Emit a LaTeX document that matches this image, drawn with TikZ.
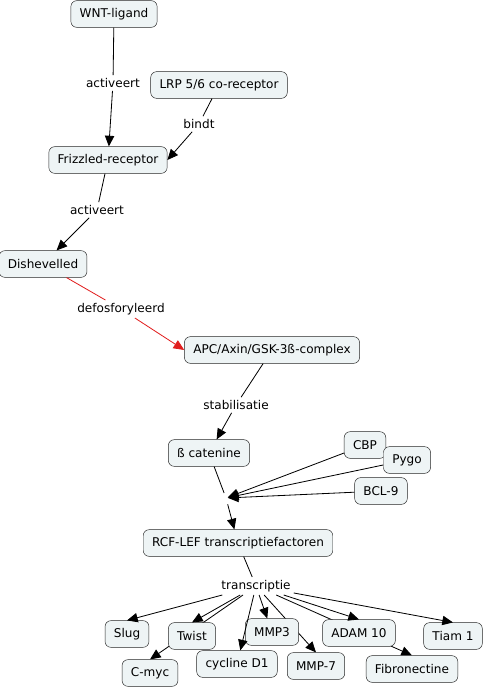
\documentclass[tikz,border=0pt]{standalone}
\usepackage{fontspec}
\setmainfont{DejaVu Sans}
\usetikzlibrary{arrows.meta, backgrounds}
\definecolor{conceptbg}{RGB}{238,244,245}
\definecolor{dephoscolor}{RGB}{225,30,30}

\begin{document}
\begin{tikzpicture}[
  x=0.03cm, y=-0.03cm,
  font=\fontsize{10.3}{12}\selectfont,
  concept/.style={
    draw=black!85, rounded corners=5pt, fill=conceptbg,
    minimum height=0.8cm, inner xsep=7.5pt, inner ysep=3pt
  },
  linkphrase/.style={inner sep=2.5pt},
  arr/.style={-{Triangle[length=0.32cm, width=0.28cm]}, line width=0.7pt},
  plain/.style={line width=0.7pt},
]
\useasboundingbox (0,0) rectangle (486,689);

%% ─── Receptor complex ────────────────────────────────────────────────────────

\node[concept] (wnt)  at (114, 14) {WNT-ligand};
\node[concept] (lrp)  at (219, 85) {LRP 5/6 co-receptor};
\node[concept] (friz) at (108,160) {Frizzled-receptor};
\node[concept] (dish) at ( 43,264) {Dishevelled};
\node[concept] (apc)  at (272,350) {APC/Axin/GSK-3ß-complex};
\node[concept] (bcat) at (209,453) {ß catenine};

\node[linkphrase] (act1)  at (113, 83) {activeert};
\node[linkphrase] (bindt) at (199,124) {bindt};
\node[linkphrase] (act2)  at ( 97,210) {activeert};
\node[linkphrase] (defos) at (121,309) {defosforyleerd};
\node[linkphrase] (stab)  at (236,405) {stabilisatie};

\draw[plain] (wnt) -- (act1);
\draw[arr]   (act1) -- (friz);
\draw[plain] (lrp) -- (bindt);
\draw[arr]   (bindt) -- (friz.east);
\draw[plain] (friz) -- (act2);
\draw[arr]   (act2) -- (dish);
\draw[plain, dephoscolor] (dish) -- (defos);
\draw[arr, dephoscolor]   (defos) -- (apc.west);
\draw[plain] (apc) -- (stab);
\draw[arr]   (stab) -- (bcat);

%% ─── Co-activators ───────────────────────────────────────────────────────────

\node[concept] (cbp)  at (365,445) {CBP};
\node[concept] (pygo) at (407,460) {Pygo};
\node[concept] (bcl)  at (381,491) {BCL-9};
\node[concept] (rcf)  at (238,543) {RCF-LEF transcriptiefactoren};

\node[minimum width=0.1cm, minimum height=0.36cm, inner sep=0pt] (jn) at (226,498) {};

\draw[plain] (bcat) -- (jn);
\draw[arr]   (jn) -- (rcf);
\foreach \nd in {cbp, pygo, bcl}{
  \draw[arr] (\nd) -- (jn);
}

%% ─── Target genes ────────────────────────────────────────────────────────────

\node[linkphrase] (trans) at (256,586) {transcriptie};

\node[concept] (slug)  at (127,634) {Slug};
\node[concept] (twist) at (192,636) {Twist};
\node[concept] (cmyc)  at (150,673) {C-myc};
\node[concept] (cyc)   at (237,664) {cycline D1};
\node[concept] (mmp3)  at (272,632) {MMP3};
\node[concept] (mmp7)  at (316,666) {MMP-7};
\node[concept] (adam)  at (359,633) {ADAM 10};
\node[concept] (fibro) at (412,669) {Fibronectine};
\node[concept] (tiam)  at (453,636) {Tiam 1};

\draw[plain] (rcf) -- (trans);
\foreach \nd in {slug.north, twist.north, cyc, mmp3, adam.north, tiam.north}{
  \draw[arr] (trans) -- (\nd);
}

% links that run behind a box
\begin{pgfonlayer}{background}
  \foreach \nd in {cmyc.north, mmp7.north, fibro.north}{
    \draw[arr] (trans) -- (\nd);
  }
\end{pgfonlayer}

\end{tikzpicture}
\end{document}
